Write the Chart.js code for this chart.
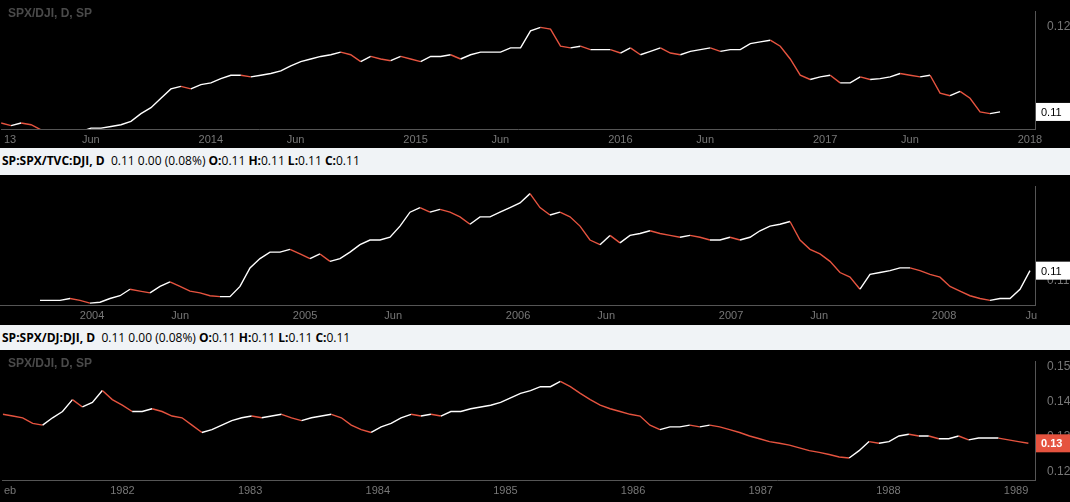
<!DOCTYPE html>
<html><head><meta charset="utf-8">
<script src="https://cdn.jsdelivr.net/npm/chart.js@4/dist/chart.umd.min.js"></script>
<style>
body{margin:0;width:1070px;height:502px;background:#f0f3f6;overflow:hidden;font-family:"Open Sans",Arial,sans-serif}
.p{position:absolute;left:0;width:1070px;background:#000}
.s{position:absolute;left:0;width:1070px;background:#f0f3f6;font-size:12px;color:#000;line-height:26px;padding-left:2px}
.w{position:absolute;left:8px;top:6px;color:#4a4a4a;font:bold 12px Arial,sans-serif;z-index:2}
</style></head><body>
<div class="p" style="top:0;height:148px"><canvas id="c1" width="1070" height="148"></canvas><div class="w">SPX/DJI, D, SP</div></div>
<div class="s" style="top:148px;height:27px"><b>SP:SPX/TVC:DJI, D</b>&nbsp; 0.11 0.00 (0.08%) <b>O:</b>0.11 <b>H:</b>0.11 <b>L:</b>0.11 <b>C:</b>0.11</div>
<div class="p" style="top:175px;height:150px"><canvas id="c2" width="1070" height="150"></canvas></div>
<div class="s" style="top:325px;height:25px"><b>SP:SPX/DJ:DJI, D</b>&nbsp; 0.11 0.00 (0.08%) <b>O:</b>0.11 <b>H:</b>0.11 <b>L:</b>0.11 <b>C:</b>0.11</div>
<div class="p" style="top:350px;height:152px"><canvas id="c3" width="1070" height="152"></canvas><div class="w">SPX/DJI, D, SP</div></div>
<script>
// values in units of 0.0001
const ratio2013_2017 = [1087,1084,1087,1085,1079,1075,1073,1075,1077,1081,1081,1083,1085,1089,1098,1105,1116,1127,1130,1127,1132,1134,1139,1143,1143,1141,1143,1145,1148,1154,1159,1162,1165,1167,1170,1167,1159,1165,1162,1160,1165,1162,1159,1165,1165,1167,1162,1167,1170,1170,1170,1175,1175,1195,1199,1197,1177,1175,1177,1173,1173,1173,1169,1175,1167,1171,1175,1169,1167,1171,1173,1175,1171,1173,1173,1180,1182,1184,1177,1162,1143,1138,1141,1143,1134,1134,1141,1138,1139,1141,1145,1143,1141,1143,1122,1119,1124,1116,1100,1098,1100];
const ratio2004_2008 = [1079,1079,1079,1081,1079,1076,1077,1081,1084,1091,1089,1087,1094,1099,1094,1089,1087,1084,1083,1083,1094,1114,1124,1131,1131,1134,1129,1124,1129,1121,1124,1131,1139,1144,1144,1147,1159,1174,1179,1174,1177,1174,1169,1161,1169,1169,1174,1179,1184,1194,1179,1171,1174,1169,1159,1144,1139,1149,1141,1149,1151,1154,1151,1149,1147,1149,1147,1144,1144,1147,1144,1147,1154,1159,1161,1164,1144,1134,1129,1121,1109,1104,1091,1107,1109,1111,1114,1114,1111,1107,1104,1094,1089,1084,1081,1079,1081,1081,1091,1111];
const ratio1981_1989 = [1364,1359,1354,1338,1333,1354,1372,1406,1385,1398,1432,1406,1390,1372,1372,1380,1372,1359,1354,1333,1312,1320,1333,1346,1354,1359,1354,1359,1364,1354,1346,1354,1359,1364,1354,1333,1320,1312,1328,1338,1354,1364,1359,1364,1359,1372,1372,1380,1385,1390,1398,1411,1424,1432,1443,1443,1458,1443,1424,1406,1390,1380,1372,1364,1359,1333,1320,1328,1328,1333,1328,1333,1328,1320,1312,1302,1294,1286,1281,1276,1268,1260,1255,1249,1242,1239,1260,1286,1281,1286,1302,1307,1302,1302,1294,1294,1302,1291,1296,1296,1296,1291,1286,1281];
const ticks1 = [[2013.02,"13"],[2013.414,"Jun"],[2014,"2014"],[2014.414,"Jun"],[2015,"2015"],[2015.414,"Jun"],[2016,"2016"],[2016.414,"Jun"],[2017,"2017"],[2017.414,"Jun"],[2018,"2018"]];
const ticks2 = [[2004,"2004"],[2004.414,"Jun"],[2005,"2005"],[2005.414,"Jun"],[2006,"2006"],[2006.414,"Jun"],[2007,"2007"],[2007.414,"Jun"],[2008,"2008"],[2008.41,"Ju"]];
const ticks3 = [[1981.12,"eb"],[1982,"1982"],[1983,"1983"],[1984,"1984"],[1985,"1985"],[1986,"1986"],[1987,"1987"],[1988,"1988"],[1989,"1989"]];
const yTicks1=[1200], yTicks2=[1100], yTicks3=[1200,1300,1400,1500];

const RED='#e5533f';
function make(id,vals,x0,step,xmin,xmax,ymin,ymax,xt,yt,boxColor,boxText,padTop,axisH){
  const data=vals.map((v,i)=>({x:x0+i*step,y:v}));
  const priceBox={id:'pb',afterDraw(ch){
    const y=ch.scales.y.getPixelForValue(vals[vals.length-1]);const c=ch.ctx;const x=ch.chartArea.right;
    c.save();c.fillStyle=boxColor;c.fillRect(x+1,y-9,34,18);
    c.fillStyle=boxColor==='#fff'?'#000':'#fff';c.font=(boxColor==='#fff'?'':'bold ')+'11px Arial';c.textBaseline='middle';c.fillText(boxText,x+6,y+1);c.restore();}};
  new Chart(document.getElementById(id),{type:'line',
    data:{datasets:[{data,borderWidth:1.4,pointRadius:0,tension:0,
      segment:{borderColor:c=>c.p1.parsed.y<c.p0.parsed.y?RED:'#fff'}}]},
    plugins:[priceBox],
    options:{responsive:false,animation:false,layout:{padding:{top:padTop,bottom:0,left:0,right:0}},
      plugins:{legend:{display:false},tooltip:{enabled:false}},
      scales:{
        x:{type:'linear',min:xmin,max:xmax,grid:{display:false,drawTicks:false},border:{color:'#555'},
          afterFit(s){s.height=axisH;},
          afterBuildTicks(s){s.ticks=xt.map(t=>({value:t[0]}));},
          ticks:{color:'#777',font:{size:11,family:'Arial'},maxRotation:0,autoSkip:false,padding:4,
            callback:(v)=>{const t=xt.find(t=>t[0]===v);return t?t[1]:'';}}},
        y:{position:'right',min:ymin,max:ymax,grid:{display:false},border:{color:'#555'},
          afterFit(s){s.width=35;},
          afterBuildTicks(s){s.ticks=yt.map(v=>({value:v}));},
          ticks:{color:'#777',font:{size:12,family:'Arial'},padding:4,callback:v=>(v/10000).toFixed(2)}}}}});
}
make('c1',ratio2013_2017,2012.976,0.04878,2012.976,2012.976+1035/205,1080,1218,ticks1,yTicks1,'#fff','0.11',0,19);
make('c2',ratio2004_2008,2003.568+40/213,10/213,2003.568,2003.568+1035/213,1074,1202,ticks2,yTicks2,'#fff','0.11',2,20);
make('c3',ratio1981_1989,1981.0625,0.078,1981.0625,1981.0625+1035/128,1176,1516,ticks3,yTicks3,RED,'0.13',0,22);
</script></body></html>
